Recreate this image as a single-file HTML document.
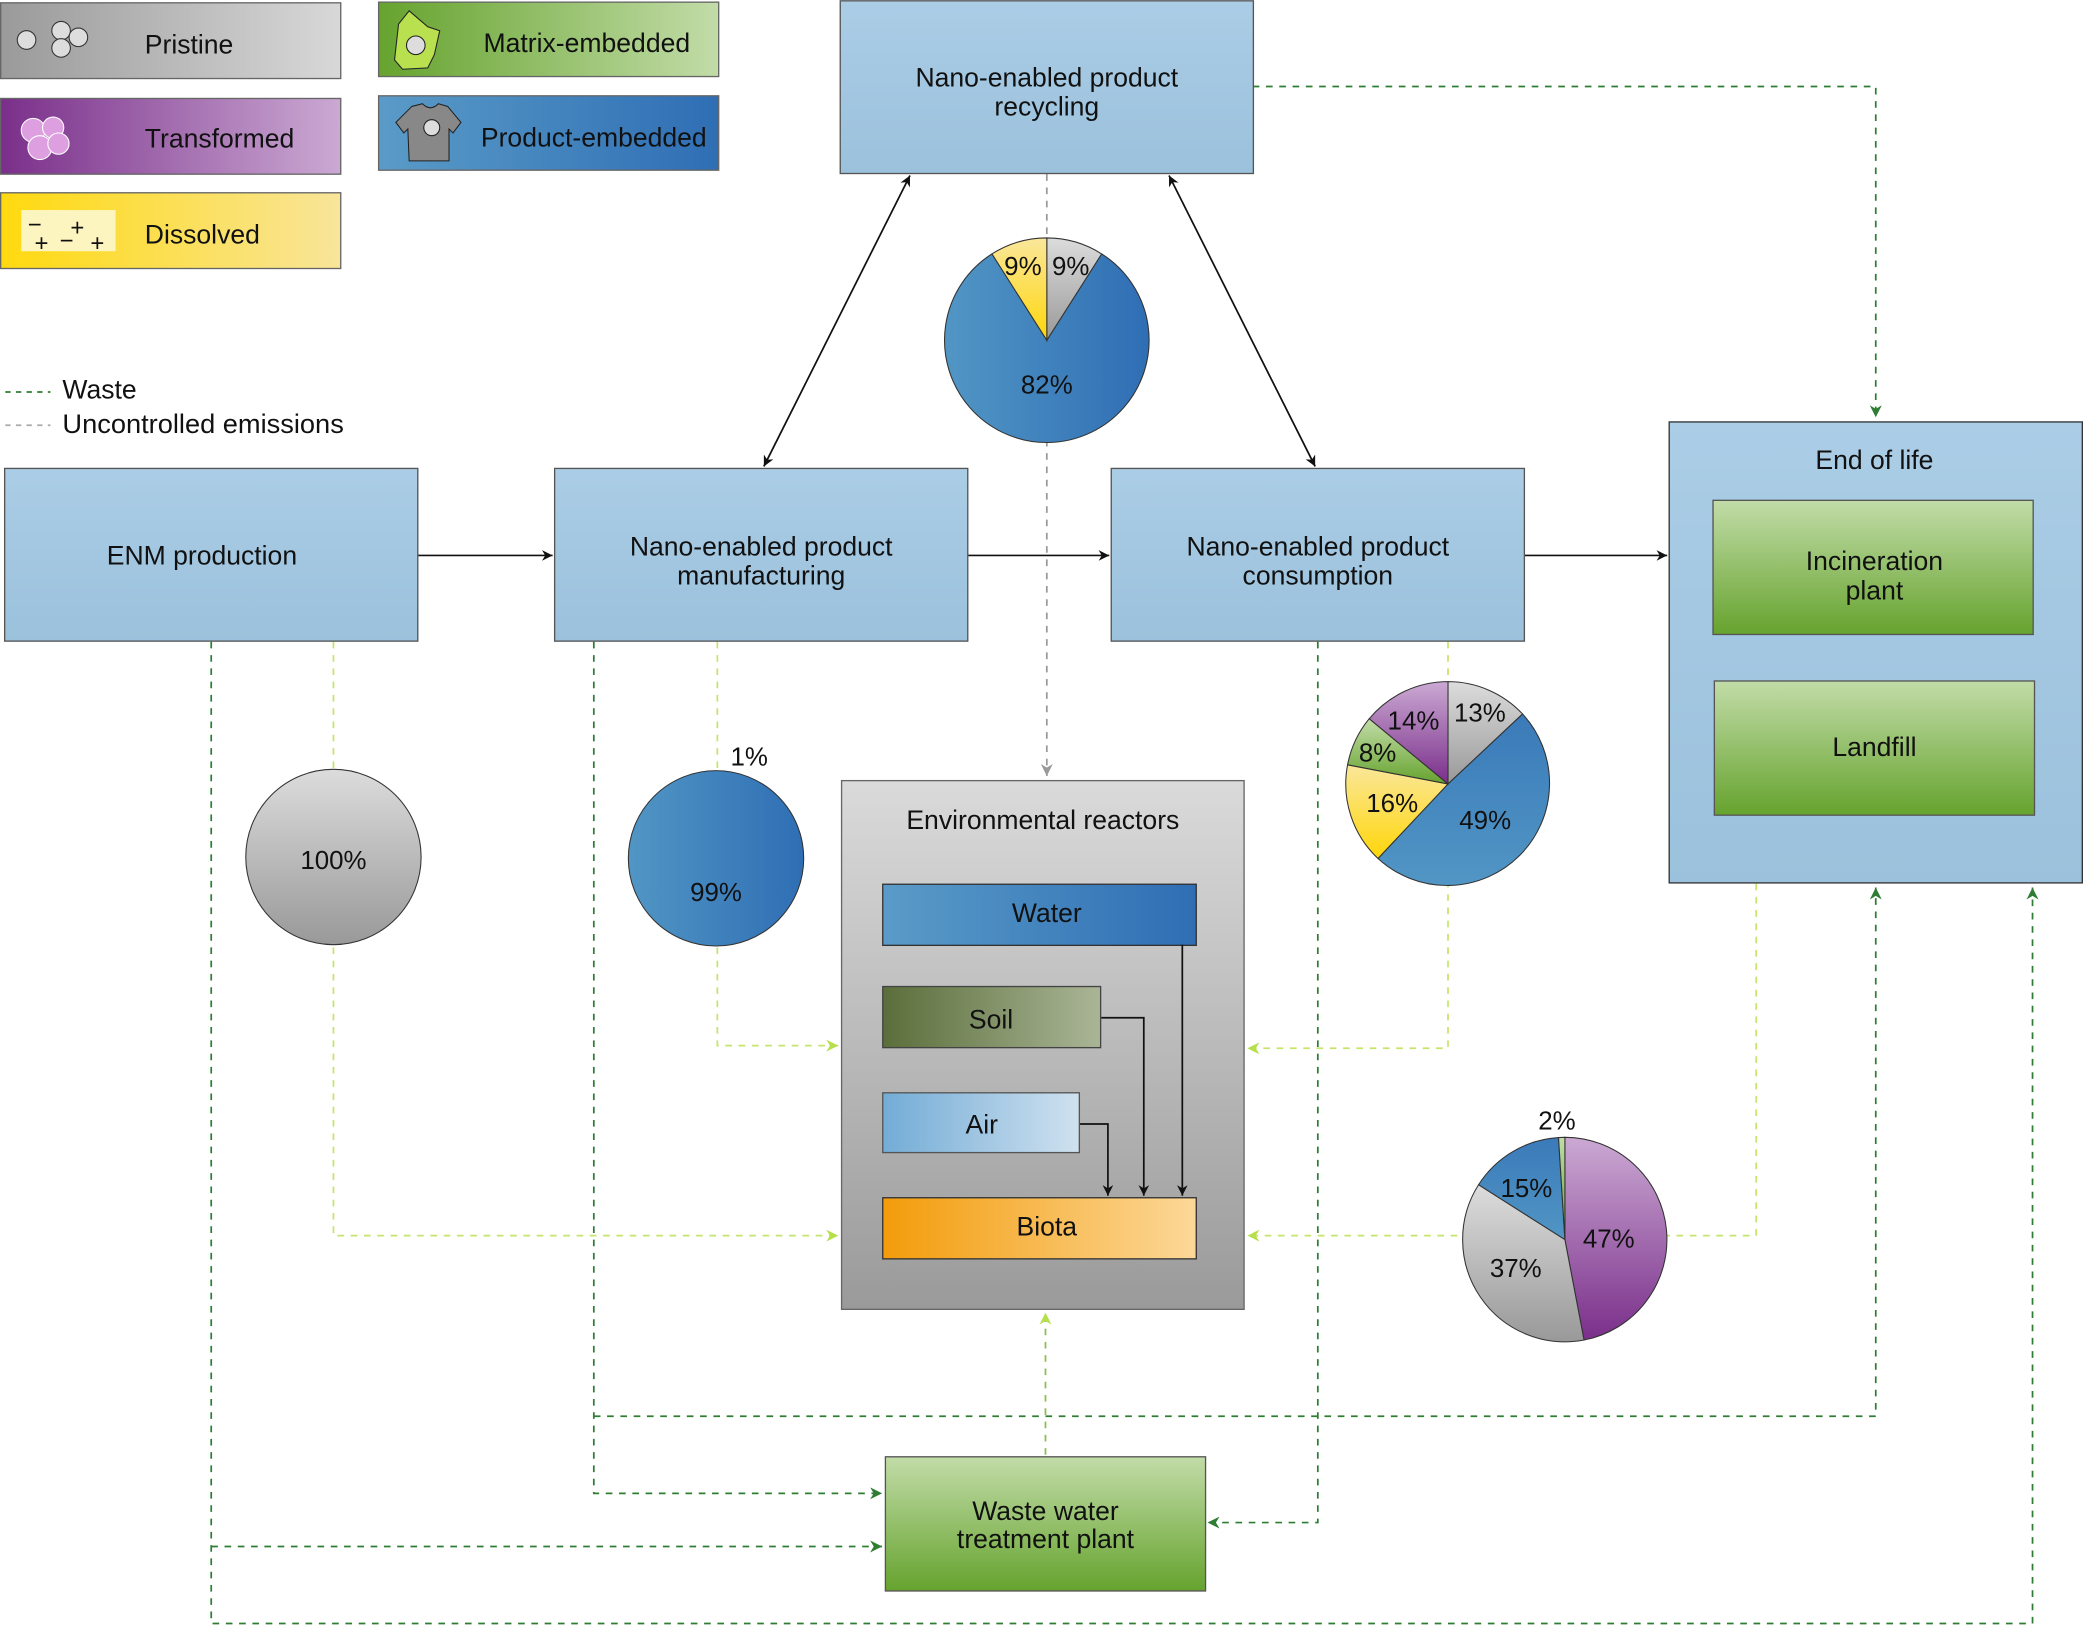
<!DOCTYPE html>
<html><head><meta charset="utf-8"><style>html,body{margin:0;padding:0;background:#fff}svg{display:block}text{font-family:"Liberation Sans",sans-serif;fill:#111}</style></head>
<body>
<svg width="2083" height="1625" viewBox="0 0 1568 1223" xmlns="http://www.w3.org/2000/svg">
<defs>
<linearGradient id="gGray" x1="0" x2="1" y1="0" y2="0"><stop offset="0" stop-color="#9a9a9a"/><stop offset="1" stop-color="#d8d8d8"/></linearGradient>
<linearGradient id="gPur" x1="0" x2="1"><stop offset="0" stop-color="#7a2f8a"/><stop offset="1" stop-color="#cba9d3"/></linearGradient>
<linearGradient id="gYel" x1="0" x2="1"><stop offset="0" stop-color="#ffd90f"/><stop offset="1" stop-color="#f8e59a"/></linearGradient>
<linearGradient id="gMat" x1="0" x2="1"><stop offset="0" stop-color="#66a32e"/><stop offset="1" stop-color="#c2dca8"/></linearGradient>
<linearGradient id="gProd" x1="0" x2="1"><stop offset="0" stop-color="#5a9bc8"/><stop offset="1" stop-color="#2f6eb4"/></linearGradient>
<linearGradient id="gBox" x1="0" x2="0" y1="0" y2="1"><stop offset="0" stop-color="#abcde6"/><stop offset="1" stop-color="#9bc1dc"/></linearGradient>
<linearGradient id="gGreenBox" x1="0" x2="0" y1="0" y2="1"><stop offset="0" stop-color="#c2dca8"/><stop offset="1" stop-color="#66a32e"/></linearGradient>
<linearGradient id="gEnv" x1="0" x2="0" y1="0" y2="1"><stop offset="0" stop-color="#dadada"/><stop offset="1" stop-color="#9a9a9a"/></linearGradient>
<linearGradient id="gSoil" x1="0" x2="1"><stop offset="0" stop-color="#5a6e3a"/><stop offset="1" stop-color="#aab596"/></linearGradient>
<linearGradient id="gAir" x1="0" x2="1"><stop offset="0" stop-color="#73acd6"/><stop offset="1" stop-color="#cfe1ef"/></linearGradient>
<linearGradient id="gBiota" x1="0" x2="1"><stop offset="0" stop-color="#f39c0b"/><stop offset="1" stop-color="#fcd898"/></linearGradient>
<linearGradient id="pBlue" x1="0" x2="0" y1="0" y2="1"><stop offset="0" stop-color="#3a7ab9"/><stop offset="1" stop-color="#5196c5"/></linearGradient>
<linearGradient id="pBlueH" x1="0" x2="1"><stop offset="0" stop-color="#5196c5"/><stop offset="1" stop-color="#2f6eb4"/></linearGradient>
<linearGradient id="pGray" x1="0" x2="0" y1="0" y2="1"><stop offset="0" stop-color="#dcdcdc"/><stop offset="1" stop-color="#999"/></linearGradient>
<linearGradient id="pYel" x1="0" x2="0" y1="0" y2="1"><stop offset="0" stop-color="#fae79a"/><stop offset="1" stop-color="#ffd60a"/></linearGradient>
<linearGradient id="pPur" x1="0" x2="0" y1="0" y2="1"><stop offset="0" stop-color="#cba9d3"/><stop offset="1" stop-color="#7a2f8a"/></linearGradient>
<linearGradient id="pGrn" x1="0" x2="0" y1="0" y2="1"><stop offset="0" stop-color="#c2dca8"/><stop offset="1" stop-color="#66a32e"/></linearGradient>
<marker id="aK" viewBox="0 0 10 10" refX="10" refY="5" markerWidth="8" markerHeight="8" orient="auto-start-reverse" markerUnits="userSpaceOnUse"><path d="M0,0 L10,5 L0,10 L3,5 Z" fill="#111"/></marker>
<marker id="aG" viewBox="0 0 10 10" refX="10" refY="5" markerWidth="9" markerHeight="9" orient="auto" markerUnits="userSpaceOnUse"><path d="M0,0 L10,5 L0,10 L3,5 Z" fill="#2e7d32"/></marker>
<marker id="aL" viewBox="0 0 10 10" refX="10" refY="5" markerWidth="9" markerHeight="9" orient="auto" markerUnits="userSpaceOnUse"><path d="M0,0 L10,5 L0,10 L3,5 Z" fill="#b5e04a"/></marker>
<marker id="aY" viewBox="0 0 10 10" refX="10" refY="5" markerWidth="9" markerHeight="9" orient="auto" markerUnits="userSpaceOnUse"><path d="M0,0 L10,5 L0,10 L3,5 Z" fill="#999"/></marker>
</defs>

<!-- Legend -->
<rect x="0.5" y="2" width="256" height="57" fill="url(#gGray)" stroke="#666"/>
<circle cx="20" cy="30" r="7" fill="#ddd" stroke="#333" stroke-width="0.8"/>
<circle cx="46" cy="23" r="7" fill="#ddd" stroke="#333" stroke-width="0.8"/>
<circle cx="59" cy="28" r="7" fill="#ddd" stroke="#333" stroke-width="0.8"/>
<circle cx="46" cy="36" r="7" fill="#ddd" stroke="#333" stroke-width="0.8"/>
<text x="109" y="40" font-size="20">Pristine</text>

<rect x="0.5" y="74" width="256" height="57" fill="url(#gPur)" stroke="#666"/>
<circle cx="25" cy="98" r="9" fill="#de9fe0" stroke="#fff" stroke-width="0.8"/>
<circle cx="40" cy="96" r="8" fill="#de9fe0" stroke="#fff" stroke-width="0.8"/>
<circle cx="30" cy="111" r="9" fill="#de9fe0" stroke="#fff" stroke-width="0.8"/>
<circle cx="44" cy="108" r="8" fill="#de9fe0" stroke="#fff" stroke-width="0.8"/>
<text x="109" y="111" font-size="20">Transformed</text>

<rect x="0.5" y="145" width="256" height="57" fill="url(#gYel)" stroke="#666"/>
<rect x="16" y="158" width="71" height="31" fill="#fdf5bf"/>
<text x="21" y="175" font-size="18">−</text><text x="53" y="177" font-size="18">+</text>
<text x="26" y="189" font-size="18">+</text><text x="45" y="187" font-size="18">−</text><text x="68" y="189" font-size="18">+</text>
<text x="109" y="183" font-size="20">Dissolved</text>

<rect x="285" y="1.5" width="256" height="56" fill="url(#gMat)" stroke="#666"/>
<path d="M300,18 L308,8 L322,20 L331,23 L327,41 L322,51 L303,52 L297,45 Z" fill="#b8e04f" stroke="#222" stroke-width="0.8"/>
<circle cx="313" cy="34" r="7" fill="#ddd" stroke="#222" stroke-width="0.8"/>
<text x="364" y="39" font-size="20">Matrix-embedded</text>

<rect x="285" y="72" width="256" height="56" fill="url(#gProd)" stroke="#666"/>
<path d="M310,80 L318,78 Q324,84 330,78 L337,80 L347,92 L341,100 L338,97 L338,121 L308,121 L307,97 L304,100 L298,92 Z" fill="#888" stroke="#222" stroke-width="0.8"/>
<circle cx="325" cy="96" r="6" fill="#ddd" stroke="#222" stroke-width="0.8"/>
<text x="362" y="110" font-size="20">Product-embedded</text>

<line x1="4" y1="295" x2="38" y2="295" stroke="#2e7d32" stroke-width="1.3" stroke-dasharray="4,4"/>
<text x="47" y="300" font-size="20">Waste</text>
<line x1="4" y1="320" x2="38" y2="320" stroke="#aaa" stroke-width="1.3" stroke-dasharray="4,4"/>
<text x="47" y="326" font-size="20.5">Uncontrolled emissions</text>

<!-- Dashed connectors -->
<g fill="none" stroke-width="1.3" stroke-dasharray="5,5">
<path d="M943,65 H1412 V314" stroke="#2e7d32" marker-end="url(#aG)"/>
<path d="M159,483 V1222 H1530 V668" stroke="#2e7d32" marker-end="url(#aG)"/>
<path d="M159,1164 H664" stroke="#2e7d32" marker-end="url(#aG)"/>
<path d="M447,483 V1124 H664" stroke="#2e7d32" marker-end="url(#aG)"/>
<path d="M447,1066 H1412 V668" stroke="#2e7d32" marker-end="url(#aG)"/>
<path d="M992,483 V1146 H909" stroke="#2e7d32" marker-end="url(#aG)"/>
<path d="M787,1095 V988" stroke="#8bbd4a" marker-end="url(#aL)"/>
<path d="M788,131 V584" stroke="#999" marker-end="url(#aY)"/>
<path d="M251,483 V930 H631" stroke="#c6e46a" marker-end="url(#aL)"/>
<path d="M540,483 V787 H631" stroke="#c6e46a" marker-end="url(#aL)"/>
<path d="M1090,483 V789 H939" stroke="#c6e46a" marker-end="url(#aL)"/>
<path d="M1322,665 V930 H939" stroke="#c6e46a" marker-end="url(#aL)"/>
</g>

<!-- Main boxes -->
<rect x="632.5" y="0.5" width="311" height="130" fill="url(#gBox)" stroke="#555"/>
<text x="788" y="65" font-size="20" text-anchor="middle">Nano-enabled product</text>
<text x="788" y="87" font-size="20" text-anchor="middle">recycling</text>

<rect x="3.5" y="352.5" width="311" height="130" fill="url(#gBox)" stroke="#555"/>
<text x="152" y="425" font-size="20" text-anchor="middle">ENM production</text>

<rect x="417.5" y="352.5" width="311" height="130" fill="url(#gBox)" stroke="#555"/>
<text x="573" y="418" font-size="20" text-anchor="middle">Nano-enabled product</text>
<text x="573" y="440" font-size="20" text-anchor="middle">manufacturing</text>

<rect x="836.5" y="352.5" width="311" height="130" fill="url(#gBox)" stroke="#555"/>
<text x="992" y="418" font-size="20" text-anchor="middle">Nano-enabled product</text>
<text x="992" y="440" font-size="20" text-anchor="middle">consumption</text>

<rect x="1256.5" y="317.5" width="311" height="347" fill="url(#gBox)" stroke="#333"/>
<text x="1411" y="353" font-size="20" text-anchor="middle">End of life</text>
<rect x="1289.5" y="376.5" width="241" height="101" fill="url(#gGreenBox)" stroke="#555"/>
<text x="1411" y="429" font-size="20" text-anchor="middle">Incineration</text>
<text x="1411" y="451" font-size="20" text-anchor="middle">plant</text>
<rect x="1290.5" y="512.5" width="241" height="101" fill="url(#gGreenBox)" stroke="#555"/>
<text x="1411" y="569" font-size="20" text-anchor="middle">Landfill</text>

<rect x="666.5" y="1096.5" width="241" height="101" fill="url(#gGreenBox)" stroke="#555"/>
<text x="787" y="1144" font-size="20" text-anchor="middle">Waste water</text>
<text x="787" y="1165" font-size="20" text-anchor="middle">treatment plant</text>

<!-- Environmental reactors -->
<rect x="633.5" y="587.5" width="303" height="398" fill="url(#gEnv)" stroke="#666"/>
<text x="785" y="624" font-size="20" text-anchor="middle">Environmental reactors</text>
<rect x="664.5" y="665.5" width="236" height="46" fill="url(#gProd)" stroke="#333"/>
<text x="788" y="694" font-size="20" text-anchor="middle">Water</text>
<rect x="664.5" y="742.5" width="164" height="46" fill="url(#gSoil)" stroke="#444"/>
<text x="746" y="774" font-size="20" text-anchor="middle">Soil</text>
<rect x="664.5" y="822.5" width="148" height="45" fill="url(#gAir)" stroke="#555"/>
<text x="739" y="853" font-size="20" text-anchor="middle">Air</text>
<rect x="664.5" y="901.5" width="236" height="46" fill="url(#gBiota)" stroke="#333"/>
<text x="788" y="930" font-size="20" text-anchor="middle">Biota</text>
<g fill="none" stroke="#111" stroke-width="1.3">
<path d="M890,711 V900" marker-end="url(#aK)"/>
<path d="M829,766 H861 V900" marker-end="url(#aK)"/>
<path d="M813,846 H834 V900" marker-end="url(#aK)"/>
</g>

<!-- Solid arrows -->
<g fill="none" stroke="#111" stroke-width="1.3">
<line x1="315" y1="418" x2="416" y2="418" marker-end="url(#aK)"/>
<line x1="729" y1="418" x2="835" y2="418" marker-end="url(#aK)"/>
<line x1="1148" y1="418" x2="1255" y2="418" marker-end="url(#aK)"/>
<line x1="685" y1="132" x2="575" y2="351" marker-start="url(#aK)" marker-end="url(#aK)"/>
<line x1="880" y1="132" x2="990" y2="351" marker-start="url(#aK)" marker-end="url(#aK)"/>
</g>

<!-- Pies -->
<g stroke="#333" stroke-width="0.8">
<path d="M788,256 L829.3,191 A77,77 0 1 1 746.7,191 Z" fill="url(#pBlueH)"/>
<path d="M788,256 L788,179 A77,77 0 0 1 829.3,191 Z" fill="url(#pGray)"/>
<path d="M788,256 L746.7,191 A77,77 0 0 1 788,179 Z" fill="url(#pYel)"/>
<circle cx="251" cy="645" r="66" fill="url(#pGray)"/>
<circle cx="539" cy="646" r="66" fill="url(#pBlueH)"/>
<path d="M1090,590 L1146.1,537.3 A77,77 0 0 1 1037.3,646.1 Z" fill="url(#pBlue)"/>
<path d="M1090,590 L1090,513 A77,77 0 0 1 1146.1,537.3 Z" fill="url(#pGray)"/>
<path d="M1090,590 L1037.3,646.1 A77,77 0 0 1 1014.4,575.6 Z" fill="url(#pYel)"/>
<path d="M1090,590 L1014.4,575.6 A77,77 0 0 1 1030.7,540.9 Z" fill="url(#pGrn)"/>
<path d="M1090,590 L1030.7,540.9 A77,77 0 0 1 1090,513 Z" fill="url(#pPur)"/>
<path d="M1178,933 L1178,856 A77,77 0 0 1 1192.4,1008.6 Z" fill="url(#pPur)"/>
<path d="M1178,933 L1192.4,1008.6 A77,77 0 0 1 1113,891.7 Z" fill="url(#pGray)"/>
<path d="M1178,933 L1113,891.7 A77,77 0 0 1 1173.2,856.2 Z" fill="url(#pBlue)"/>
<path d="M1178,933 L1173.2,856.2 A77,77 0 0 1 1178,856 Z" fill="url(#pGrn)"/>
</g>
<g font-size="19.5" text-anchor="middle">
<text x="770" y="207">9%</text><text x="806" y="207">9%</text><text x="788" y="296">82%</text>
<text x="251" y="654">100%</text>
<text x="539" y="678">99%</text><text x="564" y="576">1%</text>
<text x="1114" y="543">13%</text><text x="1064" y="549">14%</text><text x="1037" y="573">8%</text><text x="1048" y="611">16%</text><text x="1118" y="624">49%</text>
<text x="1172" y="850">2%</text><text x="1149" y="901">15%</text><text x="1211" y="939">47%</text><text x="1141" y="961">37%</text>
</g>
</svg>
</body></html>
